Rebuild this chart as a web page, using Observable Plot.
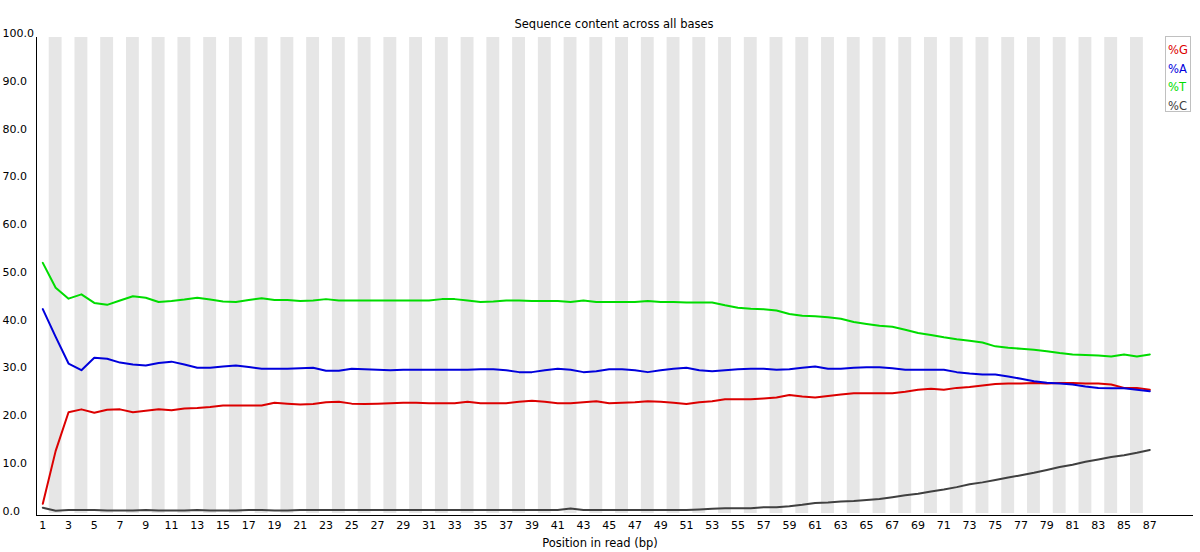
<!DOCTYPE html>
<html><head><meta charset="utf-8">
<script src="https://cdn.jsdelivr.net/npm/d3@7"></script>
<script src="https://cdn.jsdelivr.net/npm/@observablehq/plot@0.6"></script>
<style>
body{margin:0;width:1200px;height:552px;position:relative;background:#fff;font-family:"DejaVu Sans",sans-serif;overflow:hidden;color:#000}
#title{position:absolute;left:36px;width:1156px;top:16px;height:16px;line-height:16px;text-align:center;font-size:11.5px}
#chart{position:absolute;left:0;top:30px}
#xlabel{position:absolute;left:0;width:1200px;top:535px;height:16px;line-height:16px;text-align:center;font-size:11.5px}
#legend{position:absolute;left:1165px;top:36px;width:22px;height:70px;border:1px solid #c0c0c0;background:#fff;padding:4px 0 0 2px;font-size:11.5px;overflow:visible}
#legend div{height:18.6px;line-height:18.6px;white-space:nowrap}
</style>
</head><body>
<div id="title"></div>
<div id="chart"></div>
<div id="xlabel"></div>
<div id="legend"></div>
<script>
const chartTitle = "Sequence content across all bases";
const xLabel = "Position in read (bp)";
const positions = d3.range(1, 88);
const seriesNames = ["%G", "%A", "%T", "%C"];
const seriesColors = ["rgb(220,0,0)", "rgb(0,0,220)", "rgb(0,220,0)", "rgb(64,64,64)"];
const yTicks = [0, 10, 20, 30, 40, 50, 60, 70, 80, 90, 100];
const xTicks = d3.range(1, 88, 2);

const gValues = [1.5,12.6,20.7,21.3,20.6,21.2,21.3,20.7,21.0,21.3,21.1,21.5,21.6,21.8,22.1,22.1,22.1,22.1,22.7,22.5,
22.3,22.4,22.8,22.9,22.5,22.4,22.5,22.6,22.7,22.7,22.6,22.6,22.6,22.9,22.6,22.6,22.6,22.9,23.1,22.9,
22.6,22.6,22.8,23.0,22.6,22.7,22.8,23.0,22.9,22.7,22.4,22.8,23.0,23.4,23.4,23.4,23.6,23.8,24.3,24.0,
23.8,24.1,24.4,24.7,24.7,24.7,24.7,25.0,25.4,25.6,25.4,25.8,26.0,26.3,26.6,26.7,26.7,26.8,26.7,26.8,
26.8,26.7,26.7,26.5,25.8,25.8,25.4];
const aValues = [42.3,36.5,30.9,29.5,32.1,31.9,31.1,30.7,30.5,31.0,31.3,30.7,30.0,30.0,30.3,30.5,30.2,29.8,29.8,29.8,
29.9,30.0,29.4,29.4,29.8,29.7,29.6,29.5,29.6,29.6,29.6,29.6,29.6,29.6,29.7,29.7,29.5,29.1,29.1,29.5,
29.8,29.6,29.1,29.3,29.7,29.7,29.5,29.1,29.5,29.8,30.0,29.5,29.3,29.5,29.7,29.8,29.8,29.6,29.7,30.0,
30.3,29.8,29.8,30.0,30.1,30.1,29.9,29.6,29.6,29.6,29.6,29.1,28.8,28.6,28.6,28.2,27.7,27.2,26.9,26.7,
26.5,26.1,25.8,25.7,25.7,25.4,25.1];
const tValues = [52.0,46.8,44.5,45.4,43.6,43.2,44.1,45.0,44.7,43.8,44.0,44.3,44.7,44.3,43.9,43.8,44.2,44.6,44.2,44.2,
44.0,44.1,44.4,44.1,44.1,44.1,44.1,44.1,44.1,44.1,44.1,44.4,44.4,44.1,43.8,43.9,44.1,44.1,44.0,44.0,
44.0,43.8,44.1,43.8,43.8,43.8,43.8,44.0,43.8,43.8,43.7,43.7,43.7,43.1,42.6,42.4,42.3,42.0,41.3,40.9,
40.8,40.6,40.3,39.6,39.2,38.8,38.6,38.0,37.3,36.9,36.4,36.0,35.7,35.3,34.5,34.2,34.0,33.8,33.5,33.1,
32.8,32.7,32.6,32.4,32.8,32.4,32.8];
const cValues = [0.7,0.05,0.2,0.2,0.2,0.1,0.1,0.1,0.2,0.1,0.1,0.1,0.2,0.1,0.1,0.1,0.2,0.2,0.1,0.1,
0.2,0.2,0.2,0.2,0.2,0.2,0.2,0.2,0.2,0.2,0.2,0.2,0.2,0.2,0.2,0.2,0.2,0.2,0.2,0.2,
0.2,0.5,0.2,0.2,0.2,0.2,0.2,0.2,0.2,0.2,0.2,0.3,0.45,0.6,0.6,0.6,0.8,0.8,1.0,1.3,
1.7,1.8,2.0,2.1,2.3,2.5,2.9,3.3,3.6,4.1,4.5,5.0,5.6,6.0,6.5,7.0,7.5,8.0,8.6,9.2,
9.7,10.3,10.8,11.3,11.7,12.2,12.8];

const seriesValues = [gValues, aValues, tValues, cValues];
const rows = [];
seriesNames.forEach((name, i) => {
  seriesValues[i].forEach((v, j) => rows.push({series: name, pos: positions[j], value: v}));
});
const bandPositions = positions.filter(p => p % 2 === 0);

const chart = Plot.plot({
  width: 1200,
  height: 500,
  marginLeft: 36,
  marginRight: 8,
  marginTop: 7,
  marginBottom: 15,
  x: {domain: [1, 87], range: [42.3, 1149.3], axis: null},
  y: {domain: [0, 100], range: [480.5, 3.3], axis: null},
  color: {domain: seriesNames, range: seriesColors},
  style: {fontFamily: "DejaVu Sans", fontSize: "11px", background: "white", overflow: "visible", color: "black"},
  marks: [
    Plot.rect(bandPositions, {x1: d => d - 0.5, x2: d => d + 0.5, fill: "#e6e6e6", insetBottom: 2}),
    Plot.frame({anchor: "left", stroke: "black"}),
    Plot.frame({anchor: "bottom", stroke: "black"}),
    Plot.text(yTicks, {y: d => d, text: d => d.toFixed(1), frameAnchor: "left", textAnchor: "start", dx: -34, fill: "black"}),
    Plot.text(xTicks, {x: d => d, text: d => String(d), frameAnchor: "bottom", dy: 10, lineAnchor: "middle", fill: "black"}),
    Plot.line(rows, {x: "pos", y: "value", z: "series", stroke: "series", strokeWidth: 2})
  ]
});
document.getElementById("chart").appendChild(chart);
document.getElementById("title").textContent = chartTitle;
document.getElementById("xlabel").textContent = xLabel;
const legend = document.getElementById("legend");
seriesNames.forEach((name, i) => {
  const row = document.createElement("div");
  row.textContent = name;
  row.style.color = seriesColors[i];
  legend.appendChild(row);
});
</script>
</body></html>
